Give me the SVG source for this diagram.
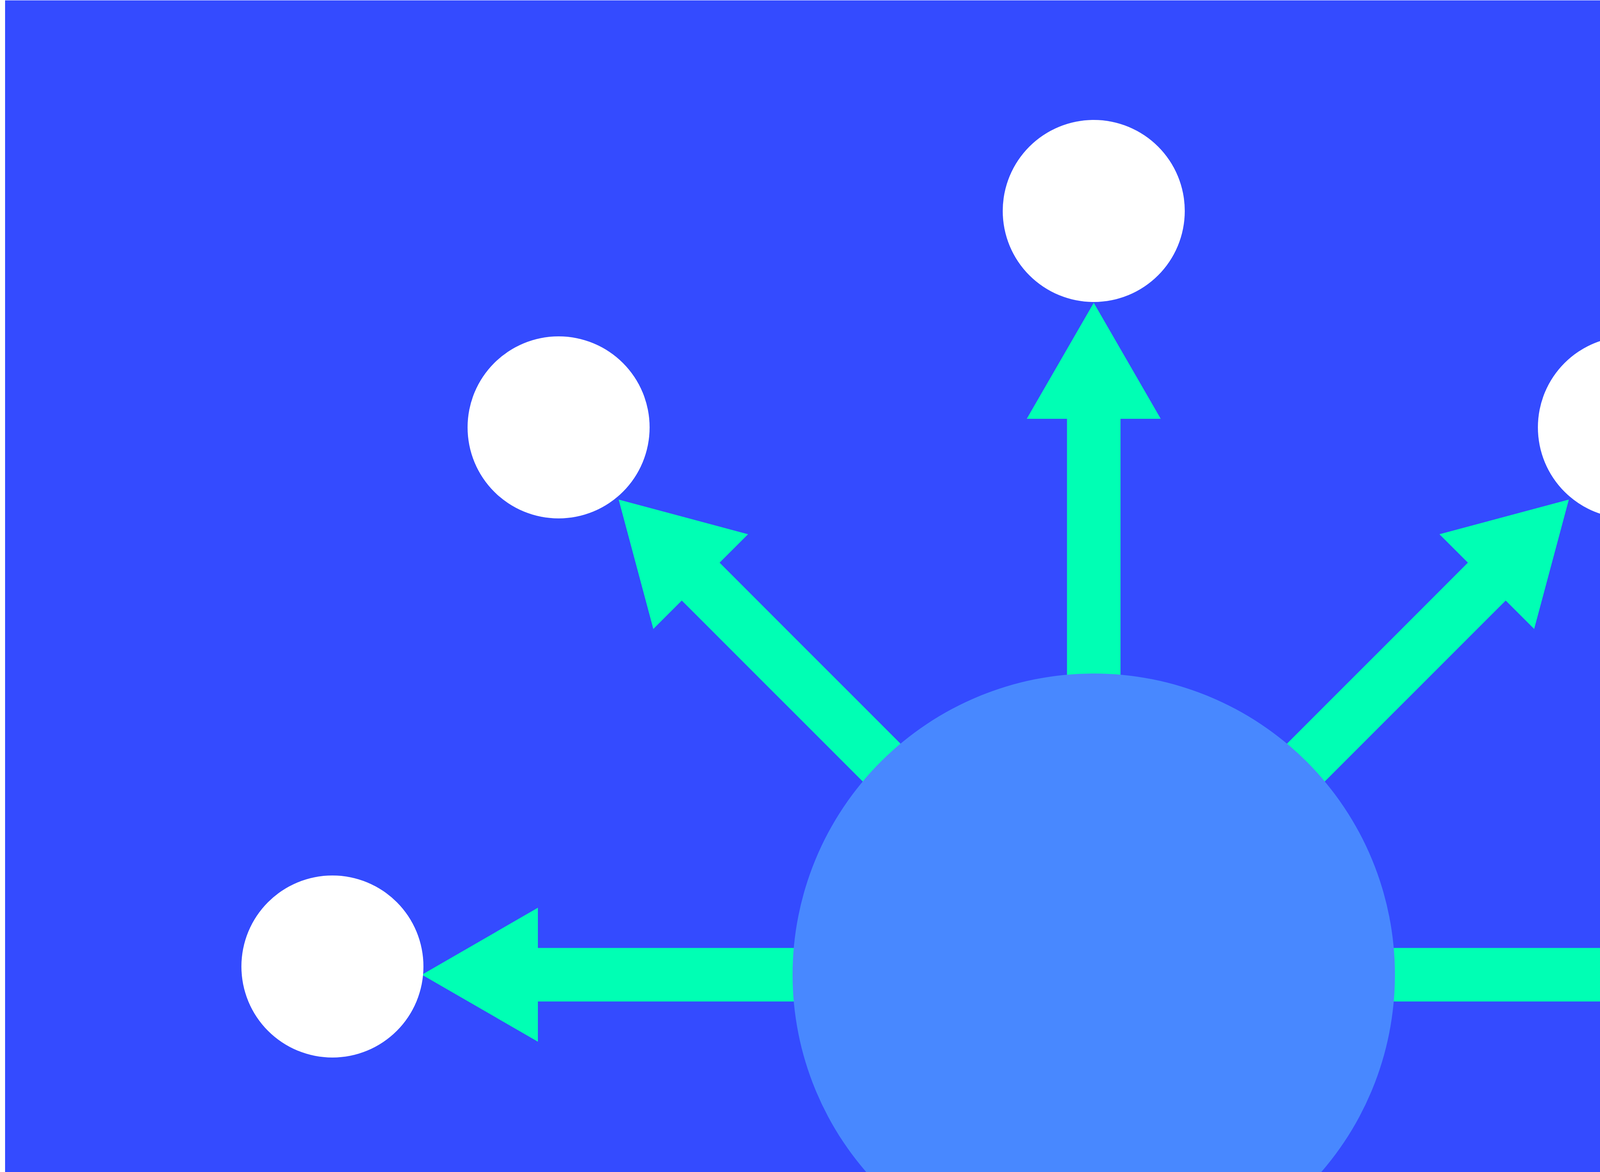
<svg xmlns="http://www.w3.org/2000/svg" width="5600" height="3000" viewBox="0 0 5600 3000">
<style>
.node{fill:#FFFFFF}
.hub{fill:#4888FF}
.arrow{fill:#00FFB4}
</style>
<defs>
<path id="arr" d="M-68.5,0 L-68.5,-1423 L-171.5,-1423 L0,-1720 L171.5,-1423 L68.5,-1423 L68.5,0 Z"/>
</defs>
<rect x="13" y="1" width="5587" height="2999" fill="#344BFF"/>
<g id="connectors" class="arrow">
<use href="#arr" transform="translate(2800,2495) rotate(-90)"/>
<use href="#arr" transform="translate(2800,2495) rotate(-45)"/>
<use href="#arr" transform="translate(2800,2495)"/>
<use href="#arr" transform="translate(2800,2495) rotate(45)"/>
<use href="#arr" transform="translate(2800,2495) rotate(90)"/>
</g>
<g id="hub"><circle class="hub" cx="2800" cy="2495" r="771"/></g>
<g id="node-top"><circle class="node" cx="2800" cy="540" r="233"/></g>
<g id="node-upper-left"><circle class="node" cx="1430" cy="1094" r="233"/></g>
<g id="node-upper-right"><circle class="node" cx="4170" cy="1094" r="233"/></g>
<g id="node-left"><circle class="node" cx="851" cy="2474" r="233"/></g>
<g id="node-right"><circle class="node" cx="4749" cy="2474" r="233"/></g>
</svg>
